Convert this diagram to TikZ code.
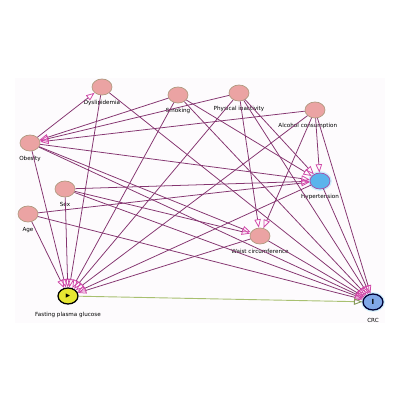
\documentclass[tikz,border=0pt]{standalone}
\usepackage{fontspec}
\setmainfont{DejaVu Sans}
\usepackage{xcolor}
\usetikzlibrary{arrows.meta,shapes.geometric}

\definecolor{edgepurple}{HTML}{853570}
\definecolor{tippink}{HTML}{D048A8}
\definecolor{nodepink}{HTML}{EBA3A3}
\definecolor{nodeedge}{HTML}{B09A80}
\definecolor{hypblue}{HTML}{5AB4EC}
\definecolor{crcblue}{HTML}{80A8E8}
\definecolor{fpgyellow}{HTML}{E6E632}
\definecolor{causalgreen}{HTML}{A8C070}
\definecolor{panelgray}{HTML}{FDFBFD}

\begin{document}
\begin{tikzpicture}[
  var/.style={ellipse, draw=nodeedge, fill=nodepink, line width=0.5pt, minimum width=0.5cm, minimum height=0.4cm, inner sep=0pt, label distance=0.3mm},
  every label/.style={font=\fontsize{4}{5}\selectfont},
  exposure/.style={var, fill=fpgyellow, draw=black, line width=0.9pt, font=\fontsize{4}{5}\selectfont},
  outcome/.style={var, fill=crcblue, draw=black!80!blue, line width=0.9pt, font=\bfseries\fontsize{5}{5}\selectfont},
  arrow/.style={-{Triangle[open, length=2.1mm, width=1.6mm, color=tippink]}, edgepurple, line width=0.55pt},
  causal/.style={-{Triangle[open, length=2.1mm, width=1.6mm, color=causalgreen!80!black]}, causalgreen, line width=0.65pt}
]
\useasboundingbox (0,0) rectangle (10,10);
\fill[panelgray] (0.375,1.925) rectangle (9.625,8.05);

% variables
\node[var, label=below:Dyslipidemia] (dys) at (2.55,7.825) {};
\node[var, label=below:Smoking] (smk) at (4.45,7.625) {};
\node[var, label=below:Physical inactivity] (phys) at (5.975,7.675) {};
\node[var, label={[xshift=-1.8mm]below:Alcohol consumption}] (alc) at (7.875,7.25) {};
\node[var, label=below:Obesity] (obes) at (0.75,6.425) {};
\node[var, fill=hypblue, draw=violet!70, preaction={draw=cyan!20, line width=2.5pt}, label=below:Hypertension] (hyp) at (8.0,5.475) {};
\node[var, label=below:Sex] (sex) at (1.625,5.275) {};
\node[var, label=below:Age] (age) at (0.7,4.65) {};
\node[var, label=below:Waist circumference] (waist) at (6.5,4.1) {};
\node[exposure, label={[label distance=0.6mm]below:Fasting plasma glucose}] (fpg) at (1.7,2.6) {▶};
\node[outcome, preaction={draw=cyan!20, line width=2.5pt}, label={[label distance=0.6mm]below:CRC}] (crc) at (9.325,2.45) {I};

% biasing paths
\draw[arrow] (obes) -- (dys);
\draw[arrow] (obes) -- (hyp);
\draw[arrow] (obes) -- (waist);
\draw[arrow] (obes) -- (fpg);
\draw[arrow] (obes) -- (crc);
\draw[arrow] (smk) -- (obes);
\draw[arrow] (smk) -- (hyp);
\draw[arrow] (smk) -- (fpg);
\draw[arrow] (smk) -- (crc);
\draw[arrow] (phys) -- (obes);
\draw[arrow] (phys) -- (hyp);
\draw[arrow] (phys) -- (waist);
\draw[arrow] (phys) -- (fpg);
\draw[arrow] (phys) -- (crc);
\draw[arrow] (alc) -- (obes);
\draw[arrow] (alc) -- (hyp);
\draw[arrow] (alc) -- (waist);
\draw[arrow] (alc) -- (fpg);
\draw[arrow] (alc) -- (crc);
\draw[arrow] (dys) -- (fpg);
\draw[arrow] (dys) -- (crc);
\draw[arrow] (sex) -- (hyp);
\draw[arrow] (sex) -- (waist);
\draw[arrow] (sex) -- (fpg);
\draw[arrow] (sex) -- (crc);
\draw[arrow] (age) -- (hyp);
\draw[arrow] (age) -- (fpg);
\draw[arrow] (age) -- (crc);
\draw[arrow] (hyp) -- (fpg);
\draw[arrow] (hyp) -- (crc);
\draw[arrow] (waist) -- (fpg);
\draw[arrow] (waist) -- (crc);

% causal path
\draw[causal] (fpg) -- (crc);
\end{tikzpicture}
\end{document}
